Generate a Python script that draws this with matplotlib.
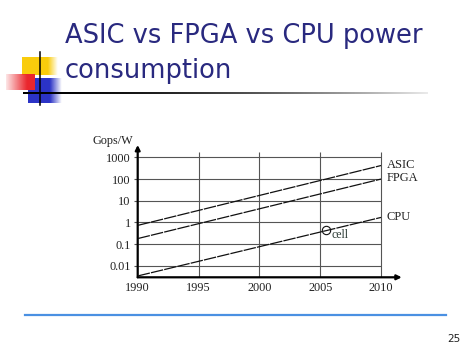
import numpy as np
import matplotlib
matplotlib.use("Agg")
import matplotlib.pyplot as plt

# =========================
# Data
# =========================
years = [1990, 2010]
asic = [0.73, 420]
fpga = [0.18, 100]
cpu = [0.0034, 1.7]
series_names = ["ASIC", "FPGA", "CPU"]
cell_year = [2005.5]
cell_value = [0.43]

x_ticks = [1990, 1995, 2000, 2005, 2010]
y_ticks = [0.01, 0.1, 1, 10, 100, 1000]
y_tick_labels = ["0.01", "0.1", "1", "10", "100", "1000"]

title_lines = ["ASIC vs FPGA vs CPU power", "consumption"]
page_number = "25"

W, H = 474, 355
fig = plt.figure(figsize=(W / 100, H / 100), dpi=100)
fig.patch.set_facecolor("white")

# =========================
# Slide decoration (pixel coordinates)
# =========================
deco = fig.add_axes([0, 0, 1, 1])
deco.set_xlim(0, W)
deco.set_ylim(H, 0)
deco.axis("off")


def fade_block(ax, x0, x1, y0, y1, rgb, alpha_cols, z):
    n = len(alpha_cols)
    img = np.zeros((2, n, 4))
    img[..., :3] = rgb
    img[..., 3] = alpha_cols
    ax.imshow(img, extent=(x0, x1, y1, y0), origin="upper", aspect="auto",
              interpolation="bilinear", zorder=z)


xs = np.linspace(22, 58, 80)
fade_block(deco, 22, 58, 57, 75, (0.98, 0.80, 0.05), np.clip((58 - xs) / 10, 0, 1), 1)
xs = np.linspace(28, 62, 80)
fade_block(deco, 28, 62, 78, 103, (0.17, 0.20, 0.78), np.clip((62 - xs) / 12, 0, 1), 1)
xs = np.linspace(6, 35, 80)
fade_block(deco, 6, 35, 74, 90, (0.92, 0.15, 0.18), np.clip(0.12 + (xs - 6) / 24, 0, 1), 2)

# fading rule under the title
xs = np.linspace(23, 428, 300)
g = np.clip((xs - 23) / 405, 0, 1) ** 1.8 * 0.92
img = np.zeros((2, len(xs), 3))
img[...] = g[None, :, None]
deco.imshow(img, extent=(23, 428, 93.6, 91.8), origin="upper", aspect="auto", zorder=3)
deco.plot([40, 40], [52, 105], color="black", lw=1.1, zorder=4)

deco.text(65, 43, title_lines[0], fontsize=18.5, color="#29297f",
          family="DejaVu Sans", va="baseline", ha="left")
deco.text(65, 78, title_lines[1], fontsize=18.5, color="#29297f",
          family="DejaVu Sans", va="baseline", ha="left")

deco.plot([25, 446], [315, 315], color="#4a90e2", lw=1.6)
deco.text(454, 339, page_number, fontsize=7.5, color="#222222",
          family="DejaVu Sans", va="center", ha="center")

# =========================
# Chart
# =========================
ax = fig.add_axes([137.7 / W, (H - 277.3) / H, (401.7 - 137.7) / W, (277.3 - 145) / H])
ax.patch.set_alpha(0)
ax.set_yscale("log")
ax.set_xlim(1990, 2011.7)
ax.set_ylim(10 ** -2.53, 10 ** 3.57)

for s in ax.spines.values():
    s.set_visible(False)

ax.hlines(y_ticks, x_ticks[0], x_ticks[-1], color="#555555", lw=0.8, zorder=1)
ax.vlines(x_ticks[1:], 10 ** -2.53, 10 ** 3.23, color="#555555", lw=0.8, zorder=1)

ax.annotate("", xy=(1, 0), xytext=(0, 0), xycoords="axes fraction",
            arrowprops=dict(arrowstyle="-|>", color="black", lw=1.6,
                            mutation_scale=7, shrinkA=0, shrinkB=0))
ax.annotate("", xy=(0, 1), xytext=(0, 0), xycoords="axes fraction",
            arrowprops=dict(arrowstyle="-|>", color="black", lw=1.6,
                            mutation_scale=7, shrinkA=0, shrinkB=0))

for vals, name in zip([asic, fpga, cpu], series_names):
    ax.plot(years, vals, color="#111111", lw=0.9, linestyle=(0, (10, 0.9)), zorder=3)
    ax.annotate(name, xy=(years[-1], vals[-1]), xytext=(4, 0.5),
                textcoords="offset points", ha="left", va="center",
                fontsize=9, family="Liberation Serif", color="#222222")

ax.plot(cell_year, cell_value, "o", mfc="none", mec="#111111", ms=6, mew=0.8, zorder=4)
ax.annotate("cell", xy=(cell_year[0], cell_value[0]), xytext=(3.5, -3.5),
            textcoords="offset points", ha="left", va="center",
            fontsize=8.5, family="Liberation Serif", color="#2a3a33")

ax.set_xticks(x_ticks)
ax.set_xticklabels([str(x) for x in x_ticks])
ax.set_yticks(y_ticks)
ax.set_yticklabels(y_tick_labels)
ax.minorticks_off()
ax.tick_params(axis="y", length=3, width=0.8, color="#555555", pad=2,
               labelsize=8.8, labelcolor="#222222")
ax.tick_params(axis="x", length=0, pad=3.5, labelsize=8.8, labelcolor="#222222")
for lab in ax.get_xticklabels() + ax.get_yticklabels():
    lab.set_family("Liberation Serif")

ax.text(-0.015, 1.03, "Gops/W", transform=ax.transAxes, ha="right", va="center",
        fontsize=8.8, family="Liberation Serif", color="#222222")

plt.savefig("out.png", dpi=100)
